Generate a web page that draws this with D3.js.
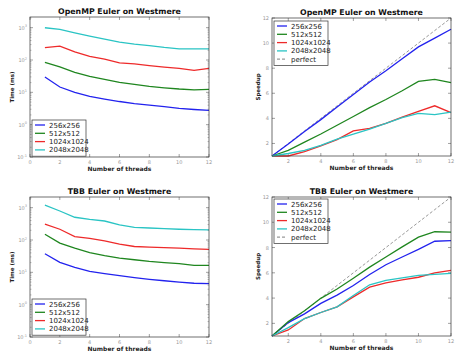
<!DOCTYPE html>
<html>
<head>
<meta charset="utf-8">
<script src="https://cdn.jsdelivr.net/npm/d3@7"></script>
<style>
  body { margin: 0; background: #fff; }
  text { font-family: "DejaVu Sans", sans-serif; }
</style>
</head>
<body>
<script>
var threads = [1, 2, 3, 4, 5, 6, 7, 8, 9, 10, 11, 12];
var sizes = ["256x256", "512x512", "1024x1024", "2048x2048"];
var colors = ["#2222ee", "#1f861f", "#ee2a2a", "#2ac4c4"];

// OpenMP time (ms)
var ompTime256 = [29.9, 14.6, 9.9, 7.5, 6.2, 5.2, 4.5, 4.0, 3.6, 3.2, 2.95, 2.75];
var ompTime512 = [85, 61, 41.7, 31, 25, 20.4, 17.5, 15.2, 13.8, 12.7, 12.0, 12.3];
var ompTime1024 = [243, 270, 178, 130, 107, 81, 76, 67, 60, 55, 48, 55];
var ompTime2048 = [994, 880, 690, 550, 440, 356, 310, 280, 245, 220, 220, 220];

// OpenMP speedup
var ompSpeed256 = [1, 1.95, 2.95, 3.9, 4.9, 5.9, 6.9, 7.8, 8.75, 9.7, 10.4, 11.1];
var ompSpeed512 = [1, 1.45, 2.1, 2.75, 3.45, 4.15, 4.85, 5.5, 6.2, 6.95, 7.1, 6.85];
var ompSpeed1024 = [1, 1.0, 1.35, 1.8, 2.3, 3.0, 3.2, 3.6, 4.1, 4.55, 5.0, 4.45];
var ompSpeed2048 = [1, 1.2, 1.45, 1.85, 2.35, 2.75, 3.15, 3.6, 4.05, 4.4, 4.3, 4.5];

// TBB time (ms)
var tbbTime256 = [37.5, 20.3, 14.3, 10.7, 9.1, 7.9, 6.9, 6.1, 5.5, 5.0, 4.6, 4.5];
var tbbTime512 = [151, 80, 56, 41, 33, 27.5, 24.5, 21.8, 20, 18.5, 16.4, 16.4];
var tbbTime1024 = [309, 215, 128, 113, 94, 74, 63, 60, 58, 56, 53, 51];
var tbbTime2048 = [1200, 790, 505, 435, 387, 293, 247, 235, 225, 215, 210, 205];

// TBB speedup
var tbbSpeed256 = [1, 2.06, 2.75, 3.58, 4.24, 5.0, 5.87, 6.64, 7.25, 7.86, 8.5, 8.55];
var tbbSpeed512 = [1, 2.14, 3.0, 3.98, 4.72, 5.57, 6.45, 7.25, 8.05, 8.82, 9.25, 9.22];
var tbbSpeed1024 = [1, 1.48, 2.38, 2.86, 3.31, 4.1, 4.86, 5.2, 5.44, 5.65, 6.0, 6.19];
var tbbSpeed2048 = [1, 1.66, 2.38, 2.86, 3.31, 4.2, 5.05, 5.4, 5.6, 5.8, 5.87, 5.95];

var perfect = threads.slice();

var svg = d3.select("body").append("svg")
    .attr("width", 474)
    .attr("height", 353);

var panels = [
  { title: "OpenMP Euler on Westmere", kind: "time", box: [30, 17, 209, 157],
    series: [ompTime256, ompTime512, ompTime1024, ompTime2048], legend: [32, 120] },
  { title: "OpenMP Euler on Westmere", kind: "speed", box: [272, 18, 451, 156],
    series: [ompSpeed256, ompSpeed512, ompSpeed1024, ompSpeed2048], legend: [274, 21] },
  { title: "TBB Euler on Westmere", kind: "time", box: [30, 197, 209, 337],
    series: [tbbTime256, tbbTime512, tbbTime1024, tbbTime2048], legend: [32, 299] },
  { title: "TBB Euler on Westmere", kind: "speed", box: [272, 197, 451, 336],
    series: [tbbSpeed256, tbbSpeed512, tbbSpeed1024, tbbSpeed2048], legend: [274, 199] }
];

panels.forEach(drawPanel);

function drawPanel(p) {
  var x0 = p.box[0], y0 = p.box[1], x1 = p.box[2], y1 = p.box[3];
  var g = svg.append("g");
  var x, y;
  if (p.kind == "time") {
    x = d3.scaleLinear().domain([0, 12]).range([x0, x1]);
    y = d3.scaleLog().domain([0.1, Math.pow(10, 3.33)]).range([y1, y0]);
  } else {
    x = d3.scaleLinear().domain([1, 12]).range([x0, x1]);
    y = d3.scaleLinear().domain([1, 12]).range([y1, y0]);
  }

  // ticks (inside, all four sides)
  var xt = p.kind == "time" ? [0, 2, 4, 6, 8, 10, 12] : [2, 4, 6, 8, 10, 12];
  xt.forEach(function(t) {
    g.append("line").attr("x1", x(t)).attr("x2", x(t)).attr("y1", y1).attr("y2", y1 - 3)
      .attr("stroke", "#444").attr("stroke-width", 0.5);
    g.append("line").attr("x1", x(t)).attr("x2", x(t)).attr("y1", y0).attr("y2", y0 + 3)
      .attr("stroke", "#444").attr("stroke-width", 0.5);
    g.append("text").attr("x", x(t)).attr("y", y1 + 7).attr("text-anchor", "middle")
      .attr("font-size", 5).attr("fill", "#999").text(t);
  });

  if (p.kind == "time") {
    var decades = [-1, 0, 1, 2, 3];
    decades.forEach(function(d) {
      var v = Math.pow(10, d);
      g.append("line").attr("x1", x0).attr("x2", x0 + 3).attr("y1", y(v)).attr("y2", y(v))
        .attr("stroke", "#444").attr("stroke-width", 0.5);
      g.append("line").attr("x1", x1).attr("x2", x1 - 3).attr("y1", y(v)).attr("y2", y(v))
        .attr("stroke", "#444").attr("stroke-width", 0.5);
      var tx = g.append("text").attr("x", x0 - 3).attr("y", y(v) + 2).attr("text-anchor", "end")
        .attr("font-size", 5).attr("fill", "#999");
      tx.append("tspan").text("10");
      tx.append("tspan").attr("dy", -2.5).attr("font-size", 3.5).text(d);
      for (var m = 2; m < 10; m++) {
        var mv = m * v;
        if (mv > y.domain()[1]) break;
        g.append("line").attr("x1", x0).attr("x2", x0 + 1.5).attr("y1", y(mv)).attr("y2", y(mv))
          .attr("stroke", "#666").attr("stroke-width", 0.4);
        g.append("line").attr("x1", x1).attr("x2", x1 - 1.5).attr("y1", y(mv)).attr("y2", y(mv))
          .attr("stroke", "#666").attr("stroke-width", 0.4);
      }
    });
  } else {
    [2, 4, 6, 8, 10, 12].forEach(function(t) {
      g.append("line").attr("x1", x0).attr("x2", x0 + 3).attr("y1", y(t)).attr("y2", y(t))
        .attr("stroke", "#444").attr("stroke-width", 0.5);
      g.append("line").attr("x1", x1).attr("x2", x1 - 3).attr("y1", y(t)).attr("y2", y(t))
        .attr("stroke", "#444").attr("stroke-width", 0.5);
      g.append("text").attr("x", x0 - 3).attr("y", y(t) + 2).attr("text-anchor", "end")
        .attr("font-size", 5).attr("fill", "#999").text(t);
    });
  }

  var line = d3.line()
    .x(function(d, i) { return x(threads[i]); })
    .y(function(d) { return y(d); });

  if (p.kind == "speed") {
    g.append("path").datum(perfect).attr("d", line).attr("fill", "none")
      .attr("stroke", "#999").attr("stroke-width", 1).attr("stroke-dasharray", "3,2");
  }

  p.series.forEach(function(s, i) {
    g.append("path").datum(s).attr("d", line).attr("fill", "none")
      .attr("stroke", colors[i]).attr("stroke-width", 1.3);
  });

  // frame
  g.append("rect").attr("x", x0).attr("y", y0).attr("width", x1 - x0).attr("height", y1 - y0)
    .attr("fill", "none").attr("stroke", "#333").attr("stroke-width", 0.7);

  // title and labels
  g.append("text").attr("x", (x0 + x1) / 2).attr("y", y0 - 3).attr("text-anchor", "middle")
    .attr("font-size", 7.8).attr("font-weight", "bold").attr("fill", "#111").text(p.title);
  g.append("text").attr("x", (x0 + x1) / 2).attr("y", y1 + 14).attr("text-anchor", "middle")
    .attr("font-size", 6).attr("font-weight", "bold").attr("fill", "#222").text("Number of threads");
  var ylab = p.kind == "time" ? "Time (ms)" : "Speedup";
  var lx = p.kind == "time" ? x0 - 16 : x0 - 12;
  g.append("text").attr("transform", "translate(" + lx + "," + ((y0 + y1) / 2) + ") rotate(-90)")
    .attr("text-anchor", "middle").attr("font-size", 5.5).attr("font-weight", "bold")
    .attr("fill", "#222").text(ylab);

  // legend
  var names = sizes.slice();
  var cols = colors.slice();
  if (p.kind == "speed") { names.push("perfect"); cols.push("#999"); }
  var lw = 54, lh = names.length * 8.3 + 3;
  var lg = g.append("g").attr("transform", "translate(" + p.legend[0] + "," + p.legend[1] + ")");
  lg.append("rect").attr("width", lw).attr("height", lh).attr("fill", "#fff")
    .attr("stroke", "#333").attr("stroke-width", 0.7);
  names.forEach(function(n, i) {
    var ly = 5 + i * 8.3;
    lg.append("line").attr("x1", 3).attr("x2", 13).attr("y1", ly).attr("y2", ly)
      .attr("stroke", cols[i]).attr("stroke-width", 1.3)
      .attr("stroke-dasharray", n == "perfect" ? "3,2" : null);
    lg.append("text").attr("x", 17).attr("y", ly + 2.5).attr("font-size", 7)
      .attr("fill", "#222").text(n);
  });
}
</script>
</body>
</html>
